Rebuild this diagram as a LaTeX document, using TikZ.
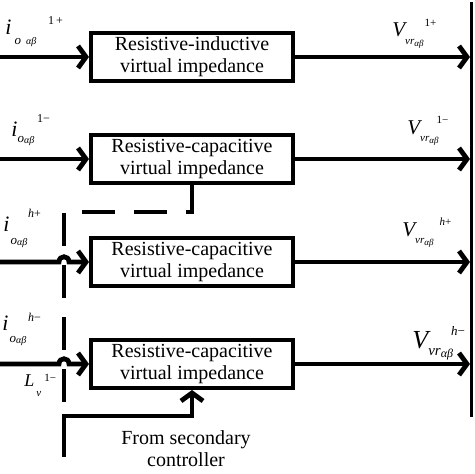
\documentclass[tikz,border=0pt]{standalone}
\usepackage{fontspec}
\setmainfont{Liberation Serif}
\usetikzlibrary{arrows.meta}
\newcommand{\fs}[1]{\fontsize{#1}{#1}\selectfont}
\tikzset{
  imp/.style={draw, line width=2pt, minimum width=101pt, minimum height=24pt,
    inner sep=0pt, align=center, font=\fontsize{10}{11}\selectfont},
  sig/.style={line width=2.4pt, -{Straight Barb[length=4pt,width=11pt]}},
  lbl/.style={anchor=base west, inner sep=0pt},
}
\begin{document}
\begin{tikzpicture}[x=0.5pt,y=-0.5pt]
\useasboundingbox (0,0) rectangle (474,474);

\node[imp] (Z1) at (192,57) {Resistive-inductive\\virtual impedance};
\node[imp] (Z2) at (192,159) {Resistive-capacitive\\virtual impedance};
\node[imp] (Z3) at (192,262) {Resistive-capacitive\\virtual impedance};
\node[imp] (Z4) at (192,364) {Resistive-capacitive\\virtual impedance};

\coordinate (I1) at (0,57);
\coordinate (I2) at (0,159);
\coordinate (I3) at (0,262);
\coordinate (I4) at (0,364);
\coordinate (O1) at (470,57);
\coordinate (O2) at (470,159);
\coordinate (O3) at (470,262);
\coordinate (O4) at (470,364);
\coordinate (BT) at (471.5,2);
\coordinate (BB) at (471.5,417);
\coordinate (D) at (64,402);
\coordinate (S) at (64,457);

% output bus
\draw[line width=1.75pt] (BT) -- (BB);

% link between the harmonic blocks
\draw[line width=2.2pt, dash pattern=on 16.5pt off 9.5pt] (Z2.south) -- ++(0,27) -| (D);

\draw[sig] (I1) -- (Z1);
\draw[sig] (I2) -- (Z2);
\draw[sig] (I3) -- (59,262) .. controls (59,255) and (69,255) .. (69,262) -- (Z3);
\draw[sig] (I4) -- (59,364) .. controls (59,357) and (69,357) .. (69,364) -- (Z4);
\draw[sig] (Z1) -- (O1);
\draw[sig] (Z2) -- (O2);
\draw[sig] (Z3) -- (O3);
\draw[sig] (Z4) -- (O4);
\draw[sig] (S) -- ++(0,-41) -| (Z4.south);

\node[font=\fontsize{10}{11}\selectfont, align=center] (F) at (186,449) {From secondary\\controller};

% signal labels
\node[lbl] (L1) at (5,35) {\itshape\fs{11}i\hspace{1.5pt}\raisebox{-5pt}{\fs{6.5}o\hspace{2.5pt}\fs{5}αβ}\hspace{6pt}\raisebox{5pt}{\upshape\fs{6}1\,+}};
\node[lbl] (L2) at (11,137) {\itshape\fs{11}i\raisebox{-3pt}{\fs{6.5}o\raisebox{-0.5pt}{\fs{5}αβ}}\hspace{1.5pt}\raisebox{7pt}{\upshape\fs{6}1−}};
\node[lbl] (L3) at (3,232) {\itshape\fs{11}i\hspace{0.5pt}\raisebox{-6.5pt}{\fs{6.5}o\raisebox{-0.5pt}{\fs{5}αβ}}\hspace{0.5pt}\raisebox{7pt}{\fs{6}h\upshape+}};
\node[lbl] (L4) at (2,330) {\itshape\fs{11}i\hspace{0.5pt}\raisebox{-6pt}{\fs{6.5}o\raisebox{-0.5pt}{\fs{5}αβ}}\hspace{1pt}\raisebox{4.5pt}{\fs{6}h\upshape−}};
\node[lbl] (L5) at (24,386) {\itshape\fs{9}L\hspace{1pt}\raisebox{-5pt}{\fs{5.5}v}\hspace{1.5pt}\raisebox{2.5pt}{\upshape\fs{5.5}1−}};

\node[lbl] (R1) at (392,37) {\itshape\fs{10.5}V\raisebox{-4pt}{\fs{5.5}vr\raisebox{-1pt}{\fs{4.5}αβ}}\hspace{0.5pt}\raisebox{5pt}{\upshape\fs{5.5}1+}};
\node[lbl] (R2) at (407,135) {\itshape\fs{10.5}V\raisebox{-3.5pt}{\fs{5.5}vr\raisebox{-1pt}{\fs{4.5}αβ}}\hspace{-1pt}\raisebox{5.5pt}{\upshape\fs{5.5}1−}};
\node[lbl] (R3) at (402,237) {\itshape\fs{10.5}V\raisebox{-3.5pt}{\fs{5.5}vr\raisebox{-1pt}{\fs{4.5}αβ}}\hspace{3pt}\raisebox{5.5pt}{\fs{5.5}h\upshape+}};
\node[lbl] (R4) at (412,348) {\itshape\fs{13}V\raisebox{-3.5pt}{\fs{7.5}vr\raisebox{-1pt}{\fs{6}αβ}}\hspace{-1pt}\raisebox{6.5pt}{\fs{6.5}h\upshape−}};
\end{tikzpicture}
\end{document}
